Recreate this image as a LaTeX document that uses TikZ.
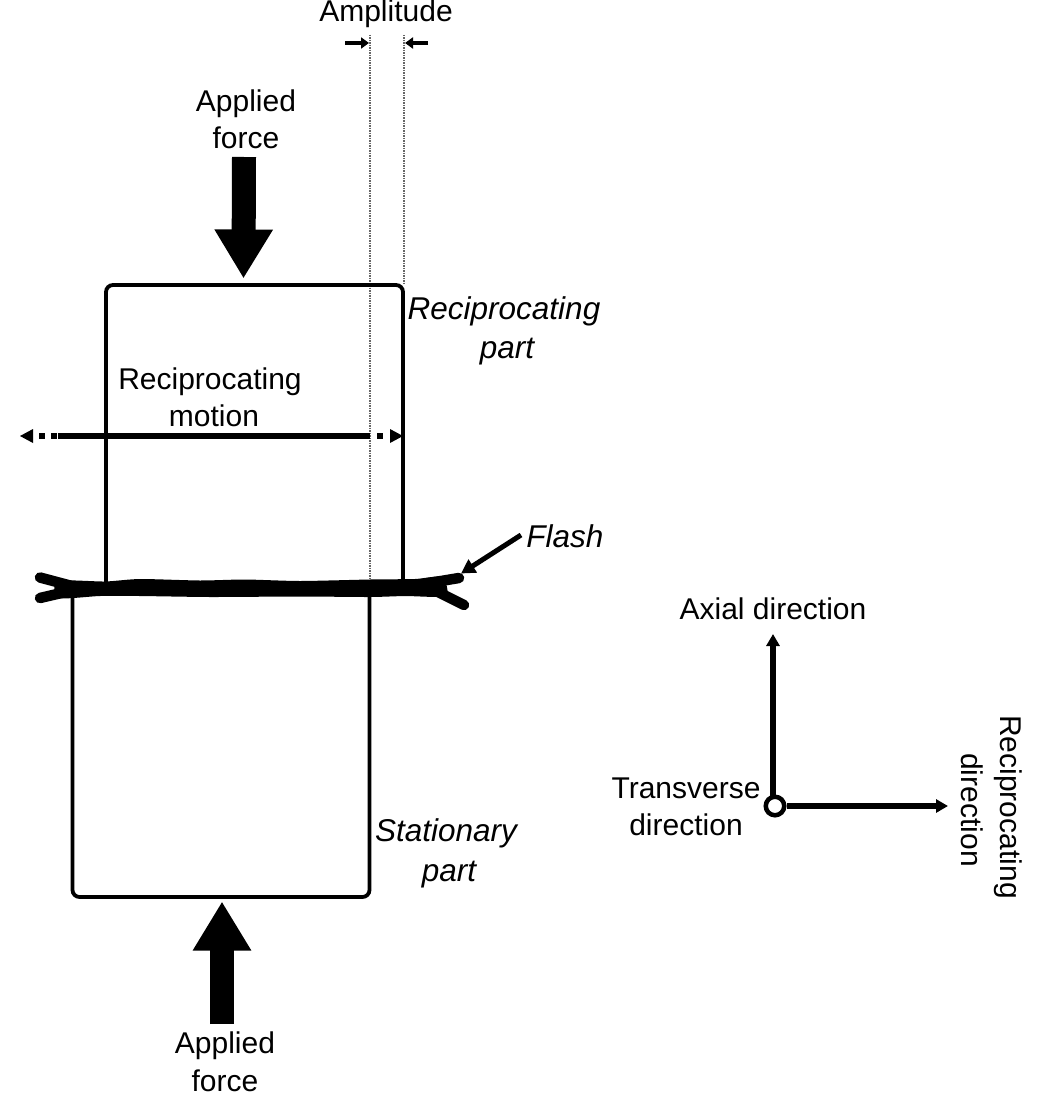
\documentclass[tikz,border=0pt]{standalone}
\usepackage{fontspec}
\setmainfont{Liberation Sans}
\usetikzlibrary{arrows.meta}
\tikzset{
  part/.style={draw=black,line width=3.8pt,rounded corners=7pt,inner sep=0pt,anchor=north west},
  lbl/.style={font=\fontsize{30}{37.5}\selectfont,align=center,inner sep=0pt,text=black},
  ilbl/.style={lbl,font=\fontsize{31.5}{39}\selectfont\itshape},
  bigarrow/.style={line width=24pt,-{Triangle[length=49pt,width=55pt]}},
  thinarrow/.style={line width=4pt,-{Triangle[length=8pt,width=11pt]}},
  axisarrow/.style={line width=5.6pt,-{Triangle[length=12pt,width=13pt]}},
  motion/.style={line width=6.5pt},
  guide/.style={draw=black!60,line width=1.6pt,dash pattern=on 1.5pt off 1pt},
  prong/.style={line width=10.5pt,line cap=round}
}
\begin{document}
\begin{tikzpicture}[x=1pt,y=-1pt]
\useasboundingbox (0,0) rectangle (1049,1105);
% guides
\coordinate (g1t) at (370,35); \coordinate (g1b) at (370,580);
\coordinate (g2t) at (404,35); \coordinate (g2b) at (404,285);
\draw[guide] (g1t) -- (g1b);
\draw[guide] (g2t) -- (g2b);
% parts
\node[part,minimum width=297pt,minimum height=305pt] (upper) at (104.1,283.1) {};
\node[part,minimum width=297pt,minimum height=308pt] (lower) at (70.6,587.1) {};
% flash
\fill[black] plot[smooth cycle,tension=0.4] coordinates {(58,581)(105,581.5)(140,579)(200,580.5)(245,579.5)(300,581)(370,579.5)(415,579)(442,577)(446,596)(405,596)(370,597)(300,596.5)(210,597)(140,596)(100,596)(58,598)};
\draw[prong] (40,577.5) -- (70,585.5);
\draw[prong] (40,598) -- (70,591);
\draw[prong] (459,578) -- (420,584.5);
\draw[prong] (464,605) -- (432,589);
% amplitude
\coordinate (al) at (345,43); \coordinate (ar) at (369,43);
\coordinate (bl) at (428,43); \coordinate (br) at (405,43);
\draw[thinarrow] (al) -- (ar);
\draw[thinarrow] (bl) -- (br);
\node[lbl,anchor=base] (amp) at (386,22) {Amplitude};
% forces
\coordinate (f1a) at (244,157); \coordinate (f1b) at (243.5,278.5);
\coordinate (f2a) at (222,1024); \coordinate (f2b) at (222,901.5);
\draw[bigarrow] (f1a) -- (f1b);
\draw[bigarrow] (f2a) -- (f2b);
\node[lbl,anchor=base] (force1) at (246,149) {Applied\\force};
\node[lbl,anchor=base] (force2) at (225,1091) {Applied\\force};
% motion
\coordinate (m1) at (57.5,436); \coordinate (m2) at (370,436);
\coordinate (hl) at (20,436); \coordinate (hr) at (403,436);
\draw[motion] (m1) -- (m2);
\fill (39,432.75) rectangle (45,439.25);
\fill (51,432.75) rectangle (56.7,439.25);
\fill (377,432.75) rectangle (383,439.25);
\fill (hl) -- (33,429) -- (33,443) -- cycle;
\fill (hr) -- (390,429) -- (390,443) -- cycle;
\node[lbl,anchor=base] (rm) at (210,389) {Reciprocating};
\node[lbl,anchor=base] (rm2) at (214,426) {motion};
% flash label
\node[ilbl] (flash) at (565,536) {Flash};
\coordinate (fa) at (521,535); \coordinate (fb) at (461,573.5);
\draw[line width=5pt,-{Triangle[length=14pt,width=15pt]}] (fa) -- (fb);
% part labels
\node[ilbl,anchor=base] (rp1) at (504,319) {Reciprocating};
\node[ilbl,anchor=base] (rp2) at (507,358) {part};
\node[ilbl,anchor=base] (sp1) at (446,841) {Stationary};
\node[ilbl,anchor=base] (sp2) at (449,881) {part};
% axes
\coordinate (ay) at (773,634); \coordinate (ax) at (948,806);
\coordinate (ys) at (773,796);
\draw[axisarrow] (ys) -- (ay);
\node[circle,draw=black,line width=4.5pt,fill=white,minimum size=18.5pt,inner sep=0pt] (o) at (775,806) {};
\draw[axisarrow] (o.east) -- (ax);
\node[lbl] (axial) at (773,609) {Axial direction};
\node[lbl,anchor=base] (tv1) at (686,798) {Transverse};
\node[lbl,anchor=base] (tv2) at (686,835) {direction};
\node[lbl,rotate=-90] (rd1) at (1008,807) {Reciprocating};
\node[lbl,rotate=-90] (rd2) at (972,810) {direction};
\end{tikzpicture}
\end{document}
